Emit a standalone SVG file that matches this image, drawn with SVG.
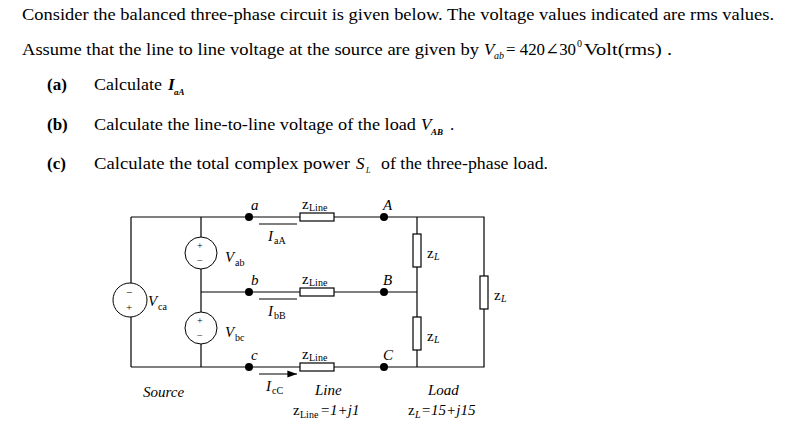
<svg xmlns="http://www.w3.org/2000/svg" width="805" height="445" viewBox="0 0 805 445">
<style>
text{font-family:"Liberation Serif","Times New Roman","DejaVu Serif",serif;fill:#000}
.q{font-size:17px}
.w{stroke:#000;stroke-width:1.2;fill:none}
.r{stroke:#000;stroke-width:1.2;fill:#fff}
.s{stroke:#000;stroke-width:1;fill:#fff}
.d{fill:#000}
.l{font-size:15px;font-style:italic}
.m{font-size:15px}
.p{font-size:10px}
</style>
<defs><marker id="ar" markerWidth="8" markerHeight="6" refX="8" refY="3" orient="auto"><path d="M0,0L8,3L0,6z"/></marker></defs>
<g id="question">
<text class="q" x="22" y="20" textLength="752" lengthAdjust="spacingAndGlyphs">Consider the balanced three-phase circuit is given below. The voltage values indicated are rms values.</text>
<text class="q" x="22" y="55" textLength="457" lengthAdjust="spacingAndGlyphs">Assume that the line to line voltage at the source are given by</text>
<text class="q" x="484" y="55" font-style="italic">V</text><text x="494" y="59" font-size="10" font-style="italic">ab</text>
<text class="q" x="506" y="55" textLength="70" lengthAdjust="spacingAndGlyphs">= 420∠30</text>
<text x="577" y="47" font-size="10">0</text>
<text class="q" x="584" y="55" textLength="88" lengthAdjust="spacingAndGlyphs">Volt(rms) .</text>
<text class="q" x="47" y="90" font-weight="bold">(a)</text>
<text class="q" x="94" y="90" textLength="68" lengthAdjust="spacingAndGlyphs">Calculate</text>
<text class="q" x="168" y="90" font-style="italic" font-weight="bold">I</text><text x="174" y="95" font-size="9" font-style="italic" font-weight="bold">aA</text>
<text class="q" x="47" y="130" font-weight="bold">(b)</text>
<text class="q" x="94" y="130" textLength="322" lengthAdjust="spacingAndGlyphs">Calculate the line-to-line voltage of the load</text>
<text class="q" x="421" y="130" font-style="italic">V</text><text x="431" y="135" font-size="9" font-style="italic" font-weight="bold">AB</text><text class="q" x="450" y="130">.</text>
<text class="q" x="47" y="169" font-weight="bold">(c)</text>
<text class="q" x="94" y="169" textLength="256" lengthAdjust="spacingAndGlyphs">Calculate the total complex power</text>
<text class="q" x="356" y="169" font-style="italic">S</text><text x="366" y="173" font-size="8" font-style="italic">L</text>
<text class="q" x="381" y="169" textLength="167" lengthAdjust="spacingAndGlyphs">of the three-phase load.</text>
</g>
<g id="connectors">
<path class="w" d="M131,217H417M131,367H417M201,292H417M131,217V283M131,317V367M201,217V237M201,269V312M201,344V367M417,217H484V367H417M417,217V234M417,267V317M417,350V367"/>
<path class="w" marker-end="url(#ar)" d="M259,224H297M259,299H297M259,374H297"/>
</g>
<g id="Vca"><circle class="s" cx="130" cy="300" r="17"/><text x="126" y="296" font-size="11">−</text><text x="126" y="311" font-size="11">+</text><text class="l" x="148" y="306">V</text><text class="p" x="158" y="310">ca</text></g>
<g id="Vab"><circle class="s" cx="201" cy="253" r="16"/><text x="197" y="249" font-size="10">+</text><text x="197" y="264" font-size="10">−</text><text class="l" x="225" y="262">V</text><text class="p" x="235" y="266">ab</text></g>
<g id="Vbc"><circle class="s" cx="201" cy="328" r="16"/><text x="197" y="324" font-size="10">+</text><text x="197" y="339" font-size="10">−</text><text class="l" x="225" y="337">V</text><text class="p" x="235" y="341">bc</text></g>
<g id="nodes">
<circle class="d" cx="249" cy="217" r="4"/><circle class="d" cx="384" cy="217" r="4"/>
<circle class="d" cx="249" cy="292" r="4"/><circle class="d" cx="384" cy="292" r="4"/>
<circle class="d" cx="249" cy="367" r="4"/><circle class="d" cx="384" cy="367" r="4"/>
<text class="l" x="251" y="210">a</text><text class="l" x="383" y="210">A</text>
<text class="l" x="251" y="285">b</text><text class="l" x="383" y="285">B</text>
<text class="l" x="251" y="360">c</text><text class="l" x="383" y="360">C</text>
</g>
<g id="lines">
<rect class="r" x="300" y="213" width="34" height="8"/><rect class="r" x="300" y="288" width="34" height="8"/><rect class="r" x="300" y="363" width="34" height="8"/>
<text class="m" x="302" y="209">z</text><text class="p" x="309" y="211">Line</text>
<text class="m" x="302" y="284">z</text><text class="p" x="309" y="286">Line</text>
<text class="m" x="302" y="359">z</text><text class="p" x="309" y="361">Line</text>
<text class="l" x="268" y="241">I</text><text class="p" x="274" y="244">aA</text>
<text class="l" x="268" y="316">I</text><text class="p" x="274" y="319">bB</text>
<text class="l" x="266" y="391">I</text><text class="p" x="272" y="394">cC</text>
</g>
<g id="loads">
<rect class="r" x="413" y="234" width="8" height="33"/><rect class="r" x="413" y="317" width="8" height="33"/><rect class="r" x="480" y="276" width="8" height="33"/>
<text class="m" x="427" y="258">z</text><text x="434" y="260" font-size="10" font-style="italic">L</text>
<text class="m" x="427" y="341">z</text><text x="434" y="343" font-size="10" font-style="italic">L</text>
<text class="m" x="494" y="300">z</text><text x="501" y="302" font-size="10" font-style="italic">L</text>
</g>
<g id="labels">
<text class="l" x="143" y="397">Source</text>
<text class="l" x="315" y="395">Line</text>
<text class="l" x="428" y="395">Load</text>
<text class="m" x="293" y="415">z</text><text class="p" x="300" y="418">Line</text><text class="l" x="320" y="415">=1+j1</text>
<text class="m" x="408" y="415">z</text><text x="415" y="418" font-size="10" font-style="italic">L</text><text class="l" x="421" y="415">=15+j15</text>
</g>
</svg>
